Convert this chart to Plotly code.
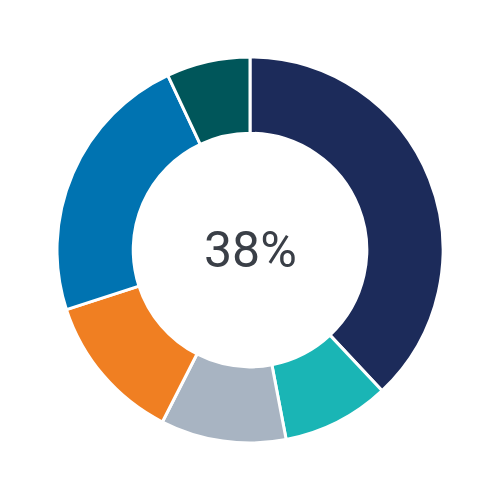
import plotly.graph_objects as go

labels = ["A", "B", "C", "D", "E", "F"]
values = [38, 9, 10.5, 12.5, 23, 7]
colors = ["#1c2b5a", "#1ab5b5", "#a8b4c2", "#f07f22", "#0073b1", "#00565a"]
center_text = "38%"

fig = go.Figure(go.Pie(
    labels=labels, values=values, hole=0.605, sort=False, direction="clockwise",
    rotation=0, textinfo="none", hoverinfo="none",
    marker=dict(colors=colors, line=dict(color="white", width=3)),
))
fig.add_annotation(text=center_text, x=0.5, y=0.5, xref="paper", yref="paper",
                   showarrow=False, font=dict(family="Roboto, Arial, sans-serif", size=50, color="#3a3f47"))
fig.update_layout(width=500, height=500, showlegend=False,
                  margin=dict(l=49, r=65, t=49, b=65),
                  paper_bgcolor="white", plot_bgcolor="white")
fig.write_html("out.html")
